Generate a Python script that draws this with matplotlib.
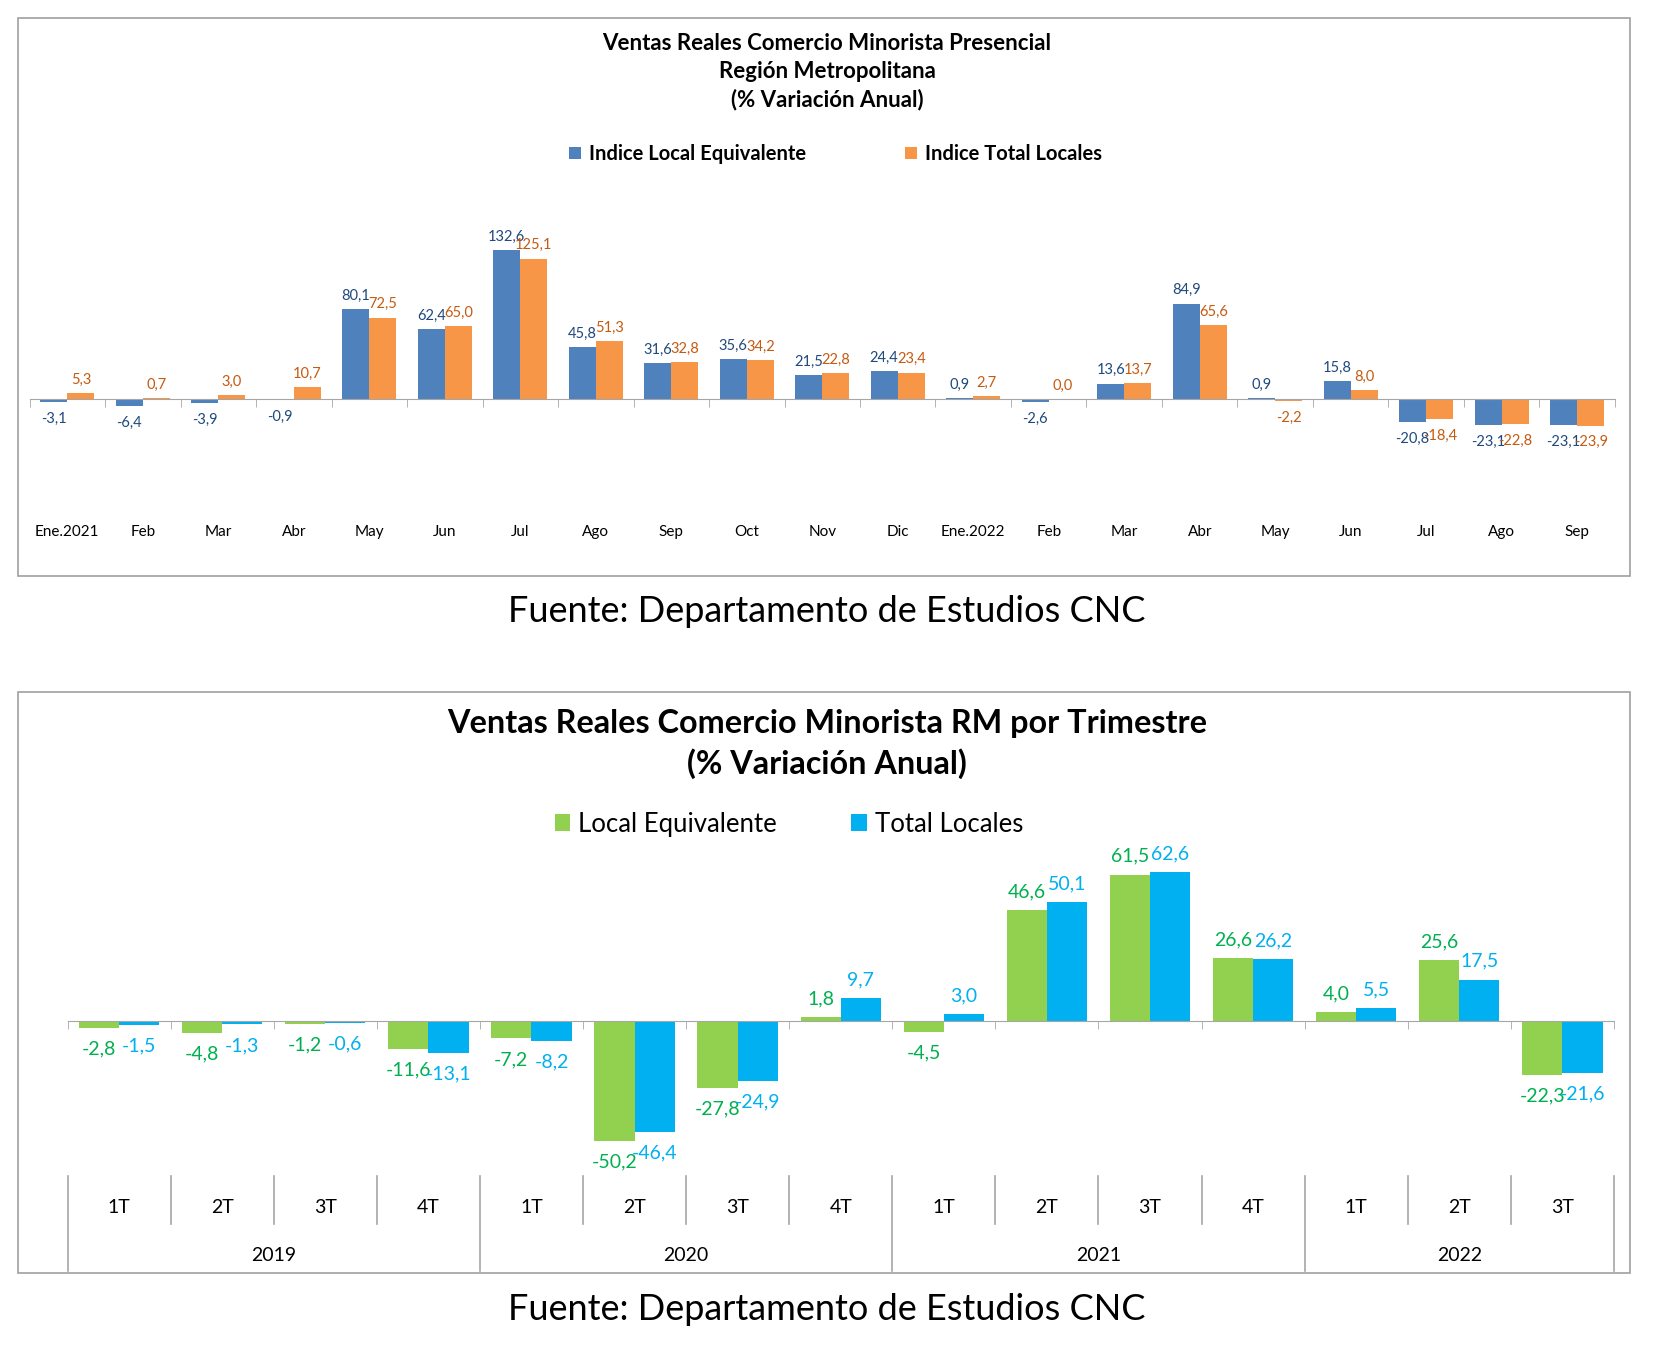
import matplotlib
matplotlib.use('Agg')
import matplotlib.pyplot as plt
import matplotlib.transforms as mtransforms
from matplotlib.patches import Rectangle
import numpy as np

plt.rcParams['font.family'] = ['Lato', 'DejaVu Sans']

# monthly chart data
months = ['Ene.2021', 'Feb', 'Mar', 'Abr', 'May', 'Jun', 'Jul', 'Ago', 'Sep', 'Oct', 'Nov', 'Dic',
          'Ene.2022', 'Feb', 'Mar', 'Abr', 'May', 'Jun', 'Jul', 'Ago', 'Sep']
local_eq = [-3.1, -6.4, -3.9, -0.9, 80.1, 62.4, 132.6, 45.8, 31.6, 35.6, 21.5, 24.4,
            0.9, -2.6, 13.6, 84.9, 0.9, 15.8, -20.8, -23.1, -23.1]
total_loc = [5.3, 0.7, 3.0, 10.7, 72.5, 65.0, 125.1, 51.3, 32.8, 34.2, 22.8, 23.4,
             2.7, 0.0, 13.7, 65.6, -2.2, 8.0, -18.4, -22.8, -23.9]

# quarterly chart data
quarters = ['1T', '2T', '3T', '4T', '1T', '2T', '3T', '4T', '1T', '2T', '3T', '4T', '1T', '2T', '3T']
years = ['2019', '2020', '2021', '2022']
year_counts = [4, 4, 4, 3]
q_local = [-2.8, -4.8, -1.2, -11.6, -7.2, -50.2, -27.8, 1.8, -4.5, 46.6, 61.5, 26.6, 4.0, 25.6, -22.3]
q_total = [-1.5, -1.3, -0.6, -13.1, -8.2, -46.4, -24.9, 9.7, 3.0, 50.1, 62.6, 26.2, 5.5, 17.5, -21.6]

W, H = 1568, 1289  # reference layout units
def fx(x): return x / W
def fy(y): return 1 - y / H

def fmt(v):
    return f"{v:.1f}".replace('.', ',')

def label_bars(ax, bars, vals, color, size, up_off, dn_off):
    for b, v in zip(bars, vals):
        up = v >= 0
        ax.annotate(fmt(v), (b.get_x() + b.get_width() / 2, v),
                    xytext=(0, up_off if up else -dn_off), textcoords='offset points',
                    ha='center', va='bottom' if up else 'top', color=color, fontsize=size)

def zero_axis(ax, n, pad):
    for s in ['left', 'top', 'right']:
        ax.spines[s].set_visible(False)
    ax.spines['bottom'].set_position(('data', 0))
    ax.spines['bottom'].set_color('#A6A6A6')
    ax.set_yticks([])
    ax.set_xticks(np.arange(-0.5, n, 1), minor=True)
    ax.tick_params(axis='x', which='minor', length=6, color='#A6A6A6', direction='out')
    ax.tick_params(axis='x', which='major', length=0, pad=pad)
    ax.set_xlim(-0.5, n - 0.5)
    ax.patch.set_alpha(0)

fig = plt.figure(figsize=(16.54, 13.6), dpi=100)

# frames
for y0, y1 in [(17, 546), (656, 1207)]:
    fig.patches.append(Rectangle((fx(17), fy(y1)), fx(1545) - fx(17), fy(y0) - fy(y1),
                                 transform=fig.transFigure, fill=False,
                                 edgecolor='#A0A0A0', lw=1.2))

# ---- top chart
ylo, yhi = -95, 175
ax1 = fig.add_axes([fx(28), fy(479), fx(1531) - fx(28), fy(192) - fy(479)])
x = np.arange(len(months))
w = 0.36
b1 = ax1.bar(x - w / 2, local_eq, w, color='#4F81BD', label='Indice Local Equivalente')
b2 = ax1.bar(x + w / 2, total_loc, w, color='#F79646', label='Indice Total Locales')
ax1.set_ylim(ylo, yhi)
zero_axis(ax1, len(months), 91)
ax1.set_xticks(x)
ax1.set_xticklabels(months, fontsize=11)
label_bars(ax1, b1, local_eq, '#1F497D', 10.5, 4.5, 7)
label_bars(ax1, b2, total_loc, '#C55A11', 10.5, 4.5, 7)

fig.text(0.5, fy(68), 'Ventas Reales Comercio Minorista Presencial\nRegión Metropolitana\n(% Variación Anual)',
         ha='center', va='center', fontsize=16, fontweight='bold', linespacing=1.38)
fig.legend(handles=[b1, b2], loc='center', bbox_to_anchor=(fx(792), fy(146)), ncol=2,
           frameon=False, prop={'weight': 'bold', 'size': 14.5},
           handlelength=0.6, handleheight=0.6, handletextpad=0.4, columnspacing=4.9)
fig.text(0.5, fy(580), 'Fuente: Departamento de Estudios CNC', ha='center', va='center', fontsize=26)

# ---- bottom chart
ax2 = fig.add_axes([fx(64), fy(1115), fx(1530) - fx(64), fy(787) - fy(1115)])
xq = np.arange(len(quarters))
wq = 0.39
g1 = ax2.bar(xq - wq / 2, q_local, wq, color='#92D050', label='Local Equivalente')
g2 = ax2.bar(xq + wq / 2, q_total, wq, color='#00B0F0', label='Total Locales')
ax2.set_ylim(-65, 80)
zero_axis(ax2, len(quarters), 128)
ax2.set_xticks(xq)
ax2.set_xticklabels(quarters, fontsize=14)
label_bars(ax2, g1, q_local, '#00B050', 14, 7, 9)
label_bars(ax2, g2, q_total, '#00B0F0', 14, 7, 9)

# multi-level category axis
trans = mtransforms.blended_transform_factory(ax2.transData, ax2.transAxes)
edges = np.cumsum([0] + year_counts) - 0.5
for b in np.arange(-0.5, len(quarters), 1):
    is_year = np.any(np.isclose(b, edges))
    ax2.plot([b, b], [0, -0.274 if is_year else -0.137], color='#A6A6A6', lw=1.2,
             transform=trans, clip_on=False)
for yr, lo, hi in zip(years, edges[:-1], edges[1:]):
    ax2.text((lo + hi) / 2, -0.229, yr, transform=trans, ha='center', va='center', fontsize=14)

fig.text(0.5, fy(705), 'Ventas Reales Comercio Minorista RM por Trimestre\n(% Variación Anual)',
         ha='center', va='center', fontsize=23.3, fontweight='bold', linespacing=1.38)
fig.legend(handles=[g1, g2], loc='center', bbox_to_anchor=(fx(748), fy(781)), ncol=2,
           frameon=False, prop={'size': 18.5},
           handlelength=0.6, handleheight=0.6, handletextpad=0.3, columnspacing=2.9)
fig.text(0.5, fy(1241), 'Fuente: Departamento de Estudios CNC', ha='center', va='center', fontsize=26)

fig.savefig('out.png', dpi=100)
